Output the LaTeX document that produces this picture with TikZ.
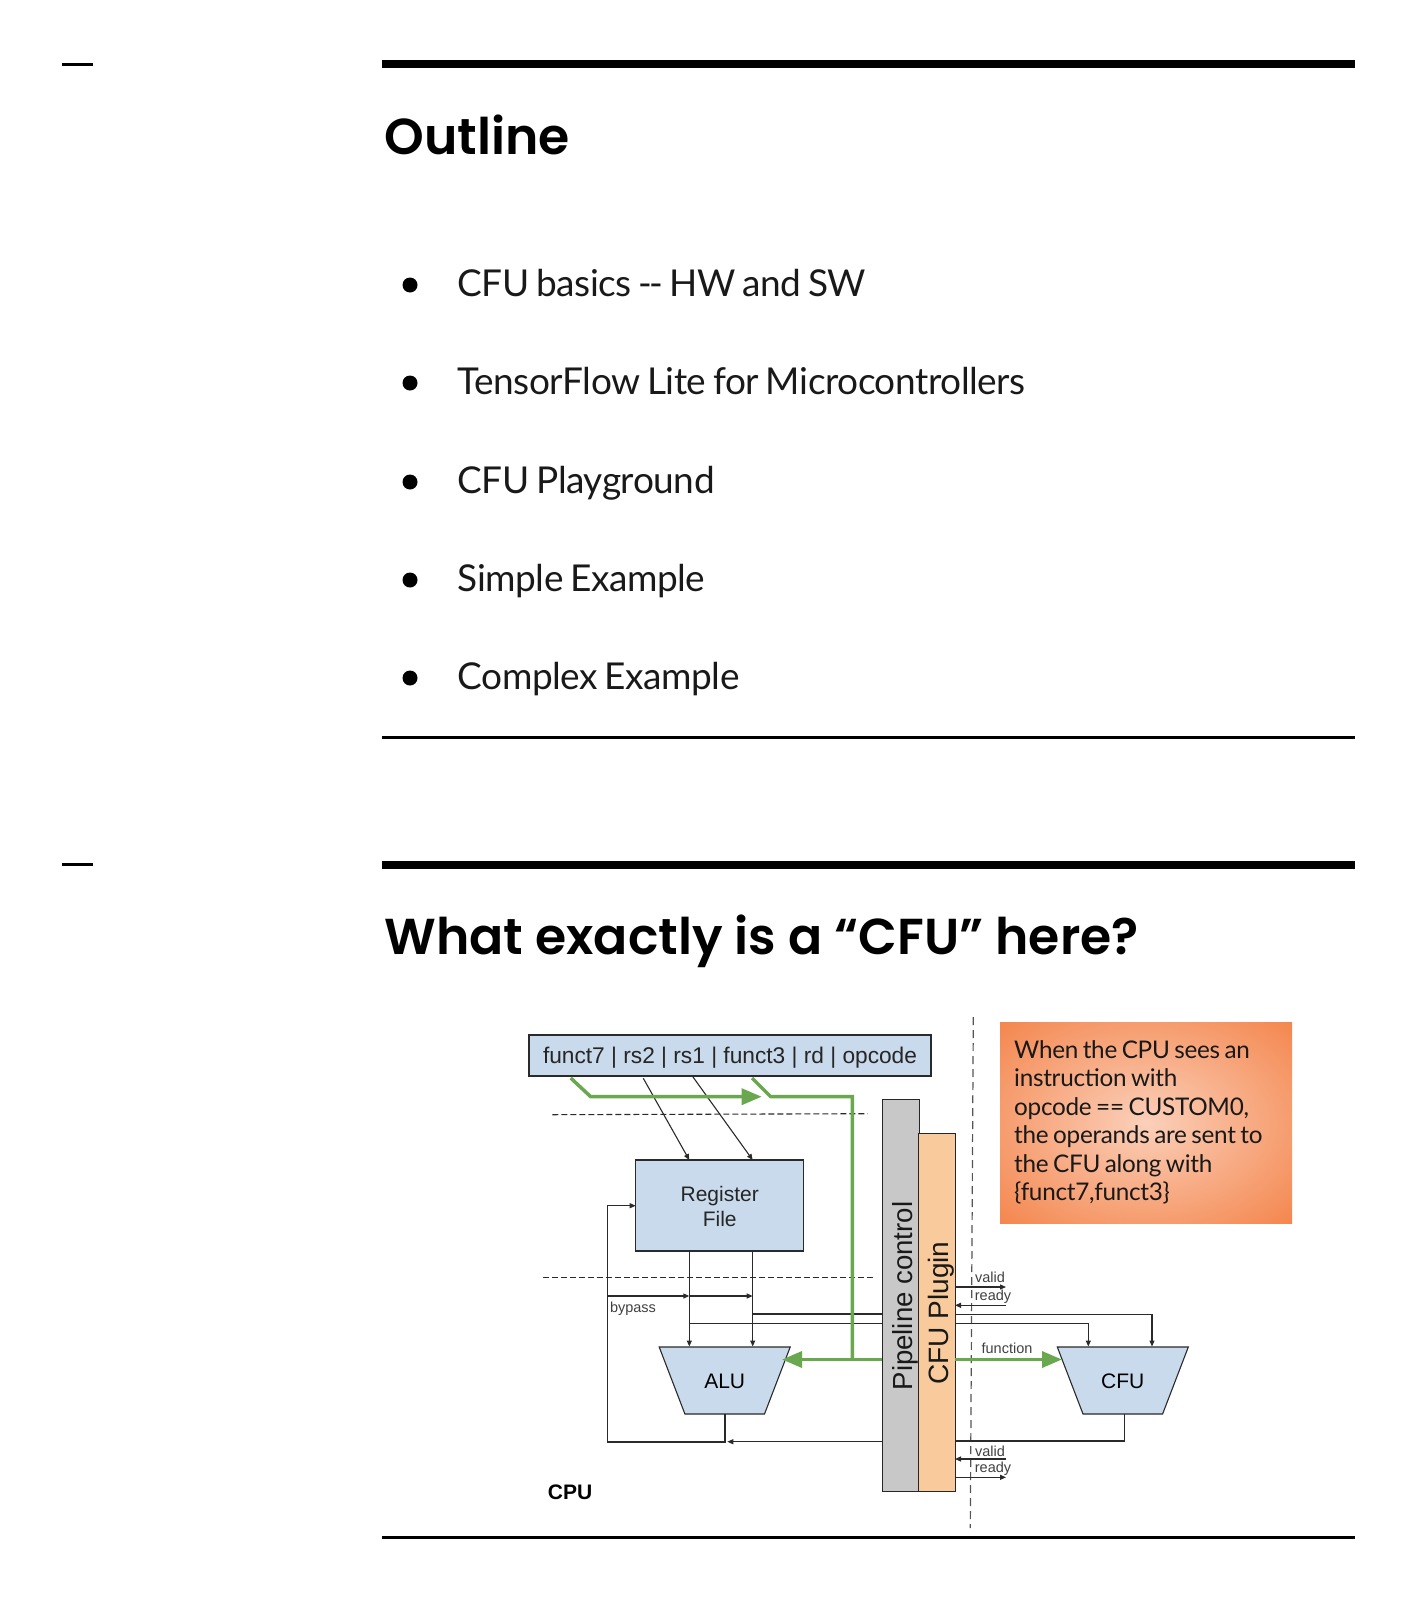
\documentclass[tikz,border=0pt]{standalone}
\usepackage{fontspec}
\usepackage{xcolor}
\setmainfont{Liberation Sans}
\newfontfamily\bodyfont{Lato}[LetterSpace=-1.2,WordSpace=0.75]
\newfontfamily\titlefont{Poppins SemiBold}
\usetikzlibrary{shapes}
\usetikzlibrary{shapes.geometric}
\usetikzlibrary{arrows.meta}
\definecolor{boxblue}{HTML}{C9DAEC}
\definecolor{plugin}{HTML}{F9CB9C}
\definecolor{pipegray}{HTML}{C8C8C8}
\definecolor{wire}{HTML}{2A2A2A}
\definecolor{busgreen}{HTML}{6AA84F}
\definecolor{noteout}{HTML}{F4874F}
\definecolor{notein}{HTML}{FBD0BA}
\pgfdeclareradialshading{noteglow}{\pgfpoint{0bp}{0bp}}{color(0bp)=(notein); color(35bp)=(noteout); color(50bp)=(noteout)}
\tikzset{>=latex}
\tikzset{
  wires/.style={draw=wire, line width=1.1pt},
  thin arrow/.style={wires, -{Triangle[length=6pt,width=5pt]}},
  bus/.style={draw=busgreen, line width=3.5pt},
  bus arrow/.style={bus, -{Triangle[length=20pt,width=16pt]}},
  bar/.style={line width=8pt, black},
  rule/.style={line width=3pt, black},
  slidemark/.style={line width=3pt, black},
  sep/.style={line width=1.1pt, draw=wire, dash pattern=on 6pt off 3pt},
  sepv/.style={line width=1.2pt, draw=wire!80, dash pattern=on 8pt off 5pt},
  blockbox/.style={rectangle, draw=wire, fill=boxblue, line width=1.1pt, inner sep=0pt, text=black!85},
  sidebox/.style={rectangle, draw=black!85, line width=1.1pt, inner sep=0pt, anchor=north west},
  mux/.style={trapezium, draw=wire, fill=boxblue, line width=1.1pt, inner xsep=0pt, inner ysep=26pt,
    text height=15pt, text depth=0pt, trapezium stretches body=true,
    shape border rotate=180, trapezium angle=69, minimum width=131pt},
  outline item/.style={anchor=base west, font=\bodyfont\fontsize{37}{37}\selectfont, text=black!90},
  slide title/.style={anchor=base west, font=\titlefont\fontsize{50.5}{50.5}\selectfont},
  bullet/.style={circle, fill=black, inner sep=0pt, minimum size=15pt},
  sig/.style={font=\fontsize{14.5}{14.5}\selectfont, text=black!75, inner sep=0pt},
}

\begin{document}
\begin{tikzpicture}[x=1pt, y=-1pt]
      \useasboundingbox (0,0) rectangle (1416,1600);
      % first slide
      \draw[slidemark] (62,64.5) -- (93,64.5);
      \draw[bar] (382,64.5) -- (1355,64.5);
      \node[slide title] (outline) at (381,154) {Outline};
      \foreach \name/\yy/\txt in {a/296/CFU basics -\kern-3pt- HW and SW, b/394/TensorFlow Lite for Microcontrollers,
          c/493/CFU Playground, d/591/Simple Example, e/689/Complex Example} {
        \node[bullet] (dot\name) at (410,\yy-11) {};
        \node[outline item] (item\name) at (454,\yy) {\txt};
      }
      \draw[rule] (382,737) -- (1355,737);

      % second slide
      \draw[slidemark] (62,864.5) -- (93,864.5);
      \draw[bar] (382,864.5) -- (1355,864.5);
      \node[slide title] (what) at (381,954) {What exactly is a “CFU” here?};
      \draw[rule] (382,1537) -- (1355,1537);

      % blocks
      \node[blockbox, minimum width=402pt, minimum height=41pt, text depth=0pt, font=\fontsize{22.7}{22.7}\selectfont] (instr) at (730,1055.5)
        {funct7 | rs2 | rs1 | funct3 | rd | opcode};
      \node[blockbox, minimum width=168pt, minimum height=91pt] (regfile) at (719.7,1205.5) {};
      \node[align=center, inner sep=0pt, text=black!85, font=\fontsize{21}{25}\selectfont] (reglabel) at (719.7,1206.5)
        {Register\\File};
      \node[sidebox, fill=pipegray, minimum width=36.5pt, minimum height=392pt] (pipe) at (882,1099.3) {};
      \node[sidebox, fill=plugin, minimum width=36.7pt, minimum height=358.3pt] (cfuplug) at (918.3,1133) {};
      \node[rotate=90, font=\fontsize{27.6}{27.6}\selectfont, text=black!90] (pipelabel) at (905,1296) {Pipeline control};
      \node[rotate=90, font=\fontsize{28}{28}\selectfont, text=black!90] (pluglabel) at (941,1313) {CFU Plugin};
      \node[mux, font=\fontsize{21}{21}\selectfont] (alu) at (724.7,1380.5) {ALU};
      \node[mux, font=\fontsize{21}{21}\selectfont] (cfu) at (1122.8,1380.5) {CFU};

      % note
      \node[anchor=north west, minimum width=292pt, minimum height=201pt, inner sep=0pt,
        shading=noteglow] (note) at (999.8,1022) {};
      \node[anchor=north west, align=left, inner sep=0pt, font=\bodyfont\fontsize{24.3}{28.5}\selectfont, text=black!90] (notetext) at (1014,1040)
        {When the CPU sees an\\instruction with\\opcode == CUSTOM0,\\the operands are sent to\\the CFU along with\\\{funct7,funct3\}};

      % stage separators
      \coordinate (sepa) at (552.3,1114.7);
      \coordinate (sepb) at (867.7,1113.7);
      \coordinate (sepc) at (543.3,1277.7);
      \coordinate (sepd) at (874.3,1277.7);
      \coordinate (sepe) at (973.3,1017);
      \coordinate (sepf) at (970.3,1528);
      \draw[sep] (sepa) -- (sepb);
      \draw[sep] (sepc) -- (sepd);
      \draw[sepv] (sepe) -- (sepf);

      % operands into the register file
      \coordinate (rsb) at (643.3,1078.3);
      \coordinate (rsa) at (692.3,1076);
      \coordinate (rega) at (689.3,1160);
      \coordinate (regb) at (752.7,1160);
      \draw[thin arrow] (rsb) -- (rega);
      \draw[thin arrow] (rsa) -- (regb);

      % register file to ALU
      \coordinate (alua) at (689.3,1346.5);
      \coordinate (alub) at (752.7,1346.5);
      \coordinate (rega out) at (689.3,1250.5);
      \coordinate (regb out) at (752.7,1250.5);
      \draw[thin arrow] (rega out) -- (alua);
      \draw[thin arrow] (regb out) -- (alub);

      % write back and bypass
      \coordinate (loopa) at (607.3,1442);
      \coordinate (loopb) at (725,1442);
      \coordinate (aluout) at (725,1414);
      \coordinate (regin) at (635.7,1205.7);
      \coordinate (loopc) at (607.3,1205.7);
      \coordinate (bypa) at (607.3,1296);
      \coordinate (bypb) at (689.3,1296);
      \coordinate (bypc) at (752.7,1296);
      \draw[wires] (aluout) -- (loopb) -- (loopa) -- (loopc);
      \draw[thin arrow] (loopc) -- (regin);
      \draw[thin arrow] (bypa) -- (bypb);
      \draw[thin arrow] (bypb) -- (bypc);
      \coordinate (piperet) at (882,1441.7);
      \coordinate (aluret) at (727.3,1441.7);
      \draw[thin arrow] (piperet) -- (aluret);

      % operands to the plugin
      \coordinate (pipea) at (882,1323.5);
      \coordinate (pipeb) at (882,1314);
      \coordinate (tapa) at (689.3,1323.5);
      \coordinate (tapb) at (752.7,1314);
      \draw[wires] (pipea) -- (tapa);
      \draw[wires] (pipeb) -- (tapb);

      % green buses
      \coordinate (busa) at (570.7,1078);
      \coordinate (busb) at (590.7,1096.7);
      \coordinate (busc) at (761.7,1096.7);
      \coordinate (busd) at (752,1078);
      \coordinate (buse) at (770.7,1096.7);
      \coordinate (busf) at (852.3,1096.7);
      \coordinate (busg) at (852.3,1359.5);
      \coordinate (bush) at (882,1359.5);
      \coordinate (busi) at (782,1359.5);
      \coordinate (busj) at (955,1359.5);
      \coordinate (busk) at (1062,1359.5);
      \draw[bus arrow] (busa) -- (busb) -- (busc);
      \draw[bus] (busd) -- (buse) -- (busf) -- (busg);
      \draw[bus arrow] (bush) -- (busi);
      \draw[bus arrow] (busj) -- (busk);

      % plugin to CFU
      \coordinate (pluga) at (955,1314.3);
      \coordinate (plugb) at (955,1323.3);
      \coordinate (cfua) at (1152,1346.5);
      \coordinate (cfub) at (1088.3,1346.5);
      \draw[thin arrow] (pluga) -| (cfua);
      \draw[thin arrow] (plugb) -| (cfub);
      \coordinate (plugc) at (955,1441);
      \coordinate (cfuout) at (1124.7,1414);
      \draw[wires] (cfuout) |- (plugc);

      % handshakes
      \coordinate (hsa) at (955,1287);
      \coordinate (hsb) at (1006,1287);
      \coordinate (hsc) at (1006,1305.3);
      \coordinate (hsd) at (955,1305.3);
      \coordinate (hse) at (1006,1459);
      \coordinate (hsf) at (955,1459);
      \coordinate (hsg) at (955,1477.3);
      \coordinate (hsh) at (1006,1477.3);
      \draw[thin arrow] (hsa) -- (hsb);
      \draw[thin arrow] (hsc) -- (hsd);
      \draw[thin arrow] (hse) -- (hsf);
      \draw[thin arrow] (hsg) -- (hsh);

      % labels
      \node[sig] (validin) at (990,1277) {valid};
      \node[sig] (readyin) at (993,1296.5) {ready};
      \node[sig] (funclab) at (1007,1348.7) {function};
      \node[sig] (validout) at (990,1451.7) {valid};
      \node[sig] (readyout) at (993,1468.5) {ready};
      \node[sig] (byplab) at (633,1308.7) {bypass};
      \node[font=\bfseries\fontsize{21}{21}\selectfont, inner sep=0pt] (cpulab) at (570,1492.7) {CPU};
    \end{tikzpicture}
\end{document}
